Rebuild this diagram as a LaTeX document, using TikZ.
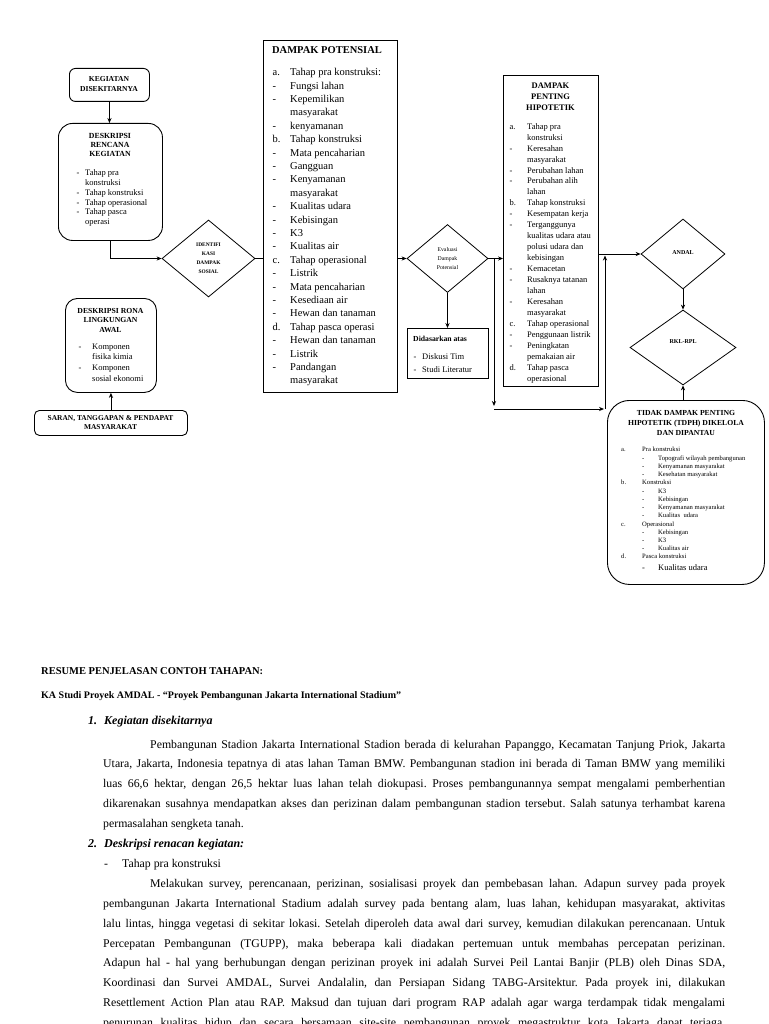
\documentclass[tikz,border=0pt]{standalone}
\usepackage{fontspec}
\setmainfont{Liberation Serif}
\usetikzlibrary{shapes.geometric,arrows.meta,calc}
\frenchspacing
\newcommand{\bodyf}{\fontsize{11.8}{14}\selectfont}
\newcommand{\jl}[4]{\node[anchor=base west, inner sep=0pt, font=\bodyf] (#1) at (#2) {\makebox[#3][s]{#4}};}
\newcommand{\pl}[3]{\node[anchor=base west, inner sep=0pt, font=\bodyf] (#1) at (#2) {#3};}
\begin{document}
\begin{tikzpicture}[x=1pt,y=-1pt,
  box/.style={draw=black, line width=0.9pt, inner sep=0pt, anchor=north west},
  dia/.style={diamond, draw=black, line width=0.8pt, inner sep=0pt},
  con/.style={line width=0.8pt, draw=black},
  arr/.style={con, -{Stealth[length=5pt,width=4.2pt]}},
  txt/.style={inner sep=0pt, align=center},
  lst/.style={inner sep=0pt, anchor=north west, align=left},
  bl/.style={anchor=base west, inner sep=0pt}
]
\useasboundingbox (0,0) rectangle (768,1024);
\fill[white] (0,0) rectangle (768,1024);

% ---------- left column ----------
\node[box, rounded corners=6pt, minimum width=80pt, minimum height=33pt] (keg) at (69,68) {};
\node[txt, font=\fontsize{7.6}{10}\selectfont\bfseries] (kegT) at (109,84.5) {KEGIATAN\\DISEKITARNYA};

\node[box, rounded corners=14pt, minimum width=104pt, minimum height=117pt] (drk) at (58,123) {};
\node[txt, font=\fontsize{7.8}{9.2}\selectfont\bfseries] (drkT) at (110,145) {DESKRIPSI\\RENCANA\\KEGIATAN};
\node[lst, font=\fontsize{8.5}{9.8}\selectfont] (drkL) at (76.5,168.6) {\begin{tabular}{@{}p{8.5pt}@{}l@{}}- & Tahap pra\\ & konstruksi\\- & Tahap konstruksi\\- & Tahap operasional\\- & Tahap pasca\\ & operasi\end{tabular}};

\node[box, rounded corners=12pt, minimum width=91pt, minimum height=94pt] (rona) at (65,298) {};
\node[txt, font=\fontsize{7.7}{9.5}\selectfont\bfseries] (ronaT) at (110.5,320.5) {DESKRIPSI RONA\\LINGKUNGAN\\AWAL};
\node[lst, font=\fontsize{8.5}{10.7}\selectfont] (ronaL) at (78.5,341.5) {\begin{tabular}{@{}p{13.5pt}@{}l@{}}- & Komponen\\ & fisika kimia\\- & Komponen\\ & sosial ekonomi\end{tabular}};

\node[box, rounded corners=5pt, minimum width=153pt, minimum height=25pt] (saran) at (34,410) {};
\node[txt, font=\fontsize{7.45}{9}\selectfont\bfseries] (saranT) at (110.5,422.5) {SARAN, TANGGAPAN \& PENDAPAT\\MASYARAKAT};

\node[dia, minimum width=93pt, minimum height=77pt] (idk) at (208.5,258.5) {};
\node[txt, font=\fontsize{5.4}{9}\selectfont\bfseries] (idkT) at (208.5,258.5) {IDENTIFI\\KASI\\DAMPAK\\SOSIAL};

% ---------- dampak potensial ----------
\node[box, minimum width=134pt, minimum height=352pt] (dp) at (263,40) {};
\node[txt, font=\fontsize{10.5}{12}\selectfont\bfseries] (dpT) at (327,50) {DAMPAK POTENSIAL};
\node[lst, font=\fontsize{10.5}{13.4}\selectfont] (dpL) at (272.5,66.1) {\begin{tabular}{@{}p{17.5pt}@{}l@{}}
a. & Tahap pra konstruksi:\\
- & Fungsi lahan\\
- & Kepemilikan\\
 & masyarakat\\
- & kenyamanan\\
b. & Tahap konstruksi\\
- & Mata pencaharian\\
- & Gangguan\\
- & Kenyamanan\\
 & masyarakat\\
- & Kualitas udara\\
- & Kebisingan\\
- & K3\\
- & Kualitas air\\
c. & Tahap operasional\\
- & Listrik\\
- & Mata pencaharian\\
- & Kesediaan air\\
- & Hewan dan tanaman\\
d. & Tahap pasca operasi\\
- & Hewan dan tanaman\\
- & Listrik\\
- & Pandangan\\
 & masyarakat\end{tabular}};

% ---------- evaluasi ----------
\node[dia, minimum width=81pt, minimum height=68pt] (eva) at (447.5,258.5) {};
\node[txt, font=\fontsize{5.8}{9}\selectfont] (evaT) at (447.5,258.5) {Evaluasi\\Dampak\\Potensial};

\node[box, minimum width=81pt, minimum height=50pt] (dida) at (407,328) {};
\node[bl, font=\fontsize{7.7}{9}\selectfont\bfseries] (didaT) at (413,341) {Didasarkan atas};
\node[lst, font=\fontsize{8.5}{13}\selectfont] (didaL) at (413.5,349.9) {\begin{tabular}{@{}p{8.5pt}@{}l@{}}- & Diskusi Tim\\- & Studi Literatur\end{tabular}};

% ---------- dampak penting hipotetik ----------
\node[box, minimum width=95pt, minimum height=311pt] (dph) at (503,75) {};
\node[txt, font=\fontsize{8.5}{11}\selectfont\bfseries] (dphT) at (550.5,97) {DAMPAK\\PENTING\\HIPOTETIK};
\node[lst, font=\fontsize{8.5}{10.96}\selectfont] (dphL) at (509.5,121.3) {\begin{tabular}{@{}p{17.5pt}@{}l@{}}
a. & Tahap pra\\
 & konstruksi\\
- & Keresahan\\
 & masyarakat\\
- & Perubahan lahan\\
- & Perubahan alih\\
 & lahan\\
b. & Tahap konstruksi\\
- & Kesempatan kerja\\
- & Terganggunya\\
 & kualitas udara atau\\
 & polusi udara dan\\
 & kebisingan\\
- & Kemacetan\\
- & Rusaknya tatanan\\
 & lahan\\
- & Keresahan\\
 & masyarakat\\
c. & Tahap operasional\\
- & Penggunaan listrik\\
- & Peningkatan\\
 & pemakaian air\\
d. & Tahap pasca\\
 & operasional\end{tabular}};

% ---------- andal / rkl ----------
\node[dia, minimum width=84pt, minimum height=70pt] (andal) at (683,254) {};
\node[txt, font=\fontsize{6}{8}\selectfont\bfseries] (andalT) at (683,252.5) {ANDAL};
\node[dia, minimum width=106pt, minimum height=75pt] (rkl) at (683,347.5) {};
\node[txt, font=\fontsize{6}{8}\selectfont\bfseries] (rklT) at (683,341.5) {RKL-RPL};

% ---------- TDPH ----------
\node[box, rounded corners=22pt, minimum width=157pt, minimum height=184pt] (tdph) at (607,400) {};
\node[txt, font=\fontsize{7.7}{10}\selectfont\bfseries] (tdphT) at (686,423) {TIDAK DAMPAK PENTING\\HIPOTETIK (TDPH) DIKELOLA\\DAN DIPANTAU};
\node[lst, font=\fontsize{6.6}{8.23}\selectfont] (tdphL) at (621,446) {\begin{tabular}{@{}p{21pt}@{}p{16pt}@{}l@{}}
a. & \multicolumn{2}{@{}l@{}}{Pra konstruksi}\\
 & - & Topografi wilayah pembangunan\\
 & - & Kenyamanan masyarakat\\
 & - & Kesehatan masyarakat\\
b. & \multicolumn{2}{@{}l@{}}{Konstruksi}\\
 & - & K3\\
 & - & Kebisingan\\
 & - & Kenyamanan masyarakat\\
 & - & Kualitas\ \ udara\\
c. & \multicolumn{2}{@{}l@{}}{Operasional}\\
 & - & Kebisingan\\
 & - & K3\\
 & - & Kualitas air\\
d. & \multicolumn{2}{@{}l@{}}{Pasca konstruksi}\end{tabular}};
\node[bl, font=\fontsize{8.5}{10}\selectfont] (tdphD) at (642,570.5) {-};
\node[bl, font=\fontsize{8.5}{10}\selectfont] (tdphX) at (658,570.5) {Kualitas udara};

% ---------- connectors ----------
\draw[arr] (keg.south) -- (keg.south |- drk.north);
\draw[arr] (drk.south) |- (idk.west);
\draw[arr] (saran.north) -- (saran.north |- rona.south);
\draw[con] (idk.east) -- (idk.east -| dp.west);
\draw[arr] (eva.west -| dp.east) -- (eva.west);
\draw[arr] (eva.south) -- (eva.south |- dida.north);
\draw[arr] (eva.east) -- (eva.east -| dph.west);
\coordinate (j1) at (494,258.5);
\coordinate (j2) at (494,406);
\coordinate (j3) at (494,409);
\coordinate (j4) at (604,409);
\coordinate (j5) at (605,409);
\coordinate (j6) at (605,255.5);
\draw[arr] (j1) -- (j2);
\draw[arr] (j3) -- (j4);
\draw[arr] (j5) -- (j6);
\draw[arr] (dph.east |- andal.west) -- (andal.west);
\draw[arr] (andal.south) -- (rkl.north);
\draw[arr] (rkl.south |- tdph.north) -- (rkl.south);

% ---------- body text ----------
\node[bl, font=\fontsize{10.5}{12}\selectfont\bfseries] (res) at (41,674) {RESUME PENJELASAN CONTOH TAHAPAN:};
\node[bl, font=\fontsize{10}{12}\selectfont\bfseries] (ka) at (41,698) {KA Studi Proyek AMDAL - “Proyek Pembangunan Jakarta International Stadium”};
\node[bl, font=\fontsize{12}{14}\selectfont\bfseries\itshape] (h1n) at (88,724) {1.};
\node[bl, font=\fontsize{12}{14}\selectfont\bfseries\itshape] (h1t) at (104,724) {Kegiatan disekitarnya};

\jl{p1}{150,748}{575pt}{Pembangunan Stadion Jakarta International Stadion berada di kelurahan Papanggo, Kecamatan Tanjung Priok, Jakarta}
\jl{p2}{103,767.9}{622pt}{Utara, Jakarta, Indonesia tepatnya di atas lahan Taman BMW. Pembangunan stadion ini berada di Taman BMW yang memiliki}
\jl{p3}{103,787.8}{622pt}{luas 66,6 hektar, dengan 26,5 hektar luas lahan telah diokupasi. Proses pembangunannya sempat mengalami pemberhentian}
\jl{p4}{103,807.7}{622pt}{dikarenakan susahnya mendapatkan akses dan perizinan dalam pembangunan stadion tersebut. Salah satunya terhambat karena}
\pl{p5}{103,827.6}{permasalahan sengketa tanah.}

\node[bl, font=\fontsize{12}{14}\selectfont\bfseries\itshape] (h2n) at (88,847.5) {2.};
\node[bl, font=\fontsize{12}{14}\selectfont\bfseries\itshape] (h2t) at (104,847.5) {Deskripsi renacan kegiatan:};
\pl{q0d}{104,867.4}{-}
\pl{q0}{122,867.4}{Tahap pra konstruksi}

\jl{q1}{150,887.3}{575pt}{Melakukan survey, perencanaan, perizinan, sosialisasi proyek dan pembebasan lahan. Adapun survey pada proyek}
\jl{q2}{103,907.2}{622pt}{pembangunan Jakarta International Stadium adalah survey pada bentang alam, luas lahan, kehidupan masyarakat, aktivitas}
\jl{q3}{103,927.1}{622pt}{lalu lintas, hingga vegetasi di sekitar lokasi. Setelah diperoleh data awal dari survey, kemudian dilakukan perencanaan. Untuk}
\jl{q4}{103,947}{622pt}{Percepatan Pembangunan (TGUPP), maka beberapa kali diadakan pertemuan untuk membahas percepatan perizinan.}
\jl{q5}{103,966.9}{622pt}{Adapun hal - hal yang berhubungan dengan perizinan proyek ini adalah Survei Peil Lantai Banjir (PLB) oleh Dinas SDA,}
\jl{q6}{103,986.8}{622pt}{Koordinasi dan Survei AMDAL, Survei Andalalin, dan Persiapan Sidang TABG-Arsitektur. Pada proyek ini, dilakukan}
\jl{q7}{103,1006.7}{622pt}{Resettlement Action Plan atau RAP. Maksud dan tujuan dari program RAP adalah agar warga terdampak tidak mengalami}
\jl{q8}{103,1026.6}{622pt}{penurunan kualitas hidup dan secara bersamaan site-site pembangunan proyek megastruktur kota Jakarta dapat terjaga.}
\end{tikzpicture}
\end{document}
